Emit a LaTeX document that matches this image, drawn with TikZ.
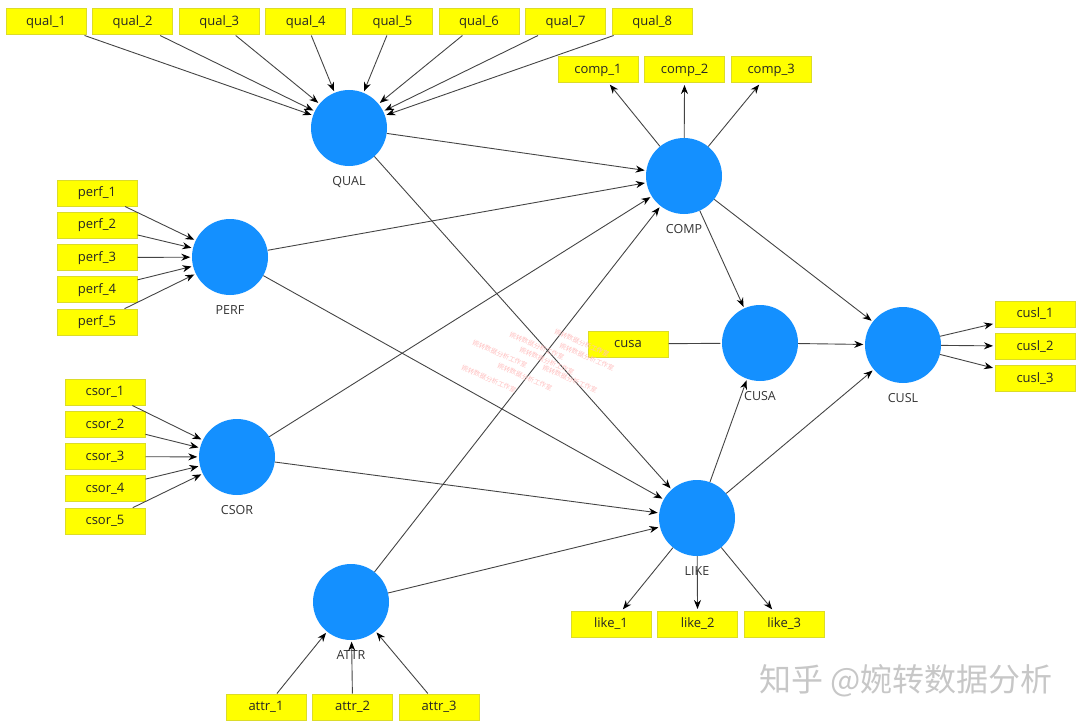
\documentclass[tikz,border=0pt]{standalone}
\usepackage{fontspec}
\setmainfont{Open Sans}
\newfontfamily\cjk{Noto Sans CJK SC}
\usetikzlibrary{positioning,arrows.meta}
\definecolor{latentBlue}{HTML}{1490FF}
\definecolor{itemYellow}{HTML}{FFFF00}
\definecolor{itemBorder}{HTML}{DCDC28}
\definecolor{linkGray}{HTML}{444444}
\tikzstyle{latent} = [fill=latentBlue,shape=circle,minimum size=76pt,inner sep=0pt]
\tikzstyle{latentname} = [font=\fontsize{12.5}{14}\selectfont,text=black!80,inner sep=0pt,label distance=10.5pt]
\tikzstyle{item} = [fill=itemYellow,draw=itemBorder,line width=1pt,minimum width=80pt,minimum height=26pt,inner sep=0pt,font=\fontsize{13}{15}\selectfont,text=black!85]
\tikzstyle{link} = [draw=linkGray,line width=0.9pt,shorten >=1.5pt,-{Stealth[length=9pt,width=7pt,color=black]}]
\tikzstyle{plainlink} = [draw=linkGray,line width=0.9pt,shorten >=1.5pt]
\tikzstyle{wmark} = [font=\cjk\fontsize{6.5}{7}\selectfont,text=red!25,rotate=-23,inner sep=0pt]
\begin{document}
\begin{tikzpicture}[x=1pt,y=-1pt]
	\useasboundingbox (0,0) rectangle (1080,725);
	% latent variables
	\node[latent,label={[latentname]below:QUAL}] (QUAL) at (349,128) {};
	\node[latent,label={[latentname]below:COMP}] (COMP) at (684,176) {};
	\node[latent,label={[latentname]below:PERF}] (PERF) at (230,257) {};
	\node[latent,label={[latentname]below:CUSA}] (CUSA) at (760,343) {};
	\node[latent,label={[latentname]below:CUSL}] (CUSL) at (903,345) {};
	\node[latent,label={[latentname]below:CSOR}] (CSOR) at (237,457) {};
	\node[latent,label={[latentname]below:LIKE}] (LIKE) at (697,518) {};
	\node[latent,label={[latentname]below:ATTR}] (ATTR) at (351,602) {};

	% indicators
	\begin{scope}[node distance=86.6pt]
	\node[item] (qual1) at (46,22) {qual\_1};
	\node[item,right of=qual1] (qual2) {qual\_2};
	\node[item,right of=qual2] (qual3) {qual\_3};
	\node[item,right of=qual3] (qual4) {qual\_4};
	\node[item,right of=qual4] (qual5) {qual\_5};
	\node[item,right of=qual5] (qual6) {qual\_6};
	\node[item,right of=qual6] (qual7) {qual\_7};
	\node[item,right of=qual7] (qual8) {qual\_8};

	\node[item] (comp1) at (598,70) {comp\_1};
	\node[item,right of=comp1] (comp2) {comp\_2};
	\node[item,right of=comp2] (comp3) {comp\_3};

	\node[item] (like1) at (611,624) {like\_1};
	\node[item,right of=like1] (like2) {like\_2};
	\node[item,right of=like2] (like3) {like\_3};

	\node[item] (attr1) at (266,707) {attr\_1};
	\node[item,right of=attr1] (attr2) {attr\_2};
	\node[item,right of=attr2] (attr3) {attr\_3};
	\end{scope}

	\begin{scope}[node distance=32.3pt]
	\node[item] (perf1) at (97,193) {perf\_1};
	\node[item,below of=perf1] (perf2) {perf\_2};
	\node[item,below of=perf2] (perf3) {perf\_3};
	\node[item,below of=perf3] (perf4) {perf\_4};
	\node[item,below of=perf4] (perf5) {perf\_5};

	\node[item] (csor1) at (105,392) {csor\_1};
	\node[item,below of=csor1] (csor2) {csor\_2};
	\node[item,below of=csor2] (csor3) {csor\_3};
	\node[item,below of=csor3] (csor4) {csor\_4};
	\node[item,below of=csor4] (csor5) {csor\_5};

	\node[item] (cusl1) at (1035,314) {cusl\_1};
	\node[item,below of=cusl1] (cusl2) {cusl\_2};
	\node[item,below of=cusl2] (cusl3) {cusl\_3};
	\end{scope}

	\node[item] (cusa1) at (628,344) {cusa};

	% measurement paths
	\foreach \i in {1,...,8} \draw[link] (qual\i) -- (QUAL);
	\foreach \i in {1,...,5} \draw[link] (perf\i) -- (PERF);
	\foreach \i in {1,...,5} \draw[link] (csor\i) -- (CSOR);
	\foreach \i in {1,2,3} \draw[link] (attr\i) -- (ATTR);
	\foreach \i in {1,2,3} \draw[link] (COMP) -- (comp\i);
	\foreach \i in {1,2,3} \draw[link] (LIKE) -- (like\i);
	\foreach \i in {1,2,3} \draw[link] (CUSL) -- (cusl\i);
	\draw[plainlink] (cusa1) -- (CUSA);

	% structural paths
	\draw[link] (QUAL) -- (COMP);
	\draw[link] (QUAL) -- (LIKE);
	\draw[link] (PERF) -- (COMP);
	\draw[link] (PERF) -- (LIKE);
	\draw[link] (CSOR) -- (COMP);
	\draw[link] (CSOR) -- (LIKE);
	\draw[link] (ATTR) -- (COMP);
	\draw[link] (ATTR) -- (LIKE);
	\draw[link] (COMP) -- (CUSA);
	\draw[link] (COMP) -- (CUSL);
	\draw[link] (LIKE) -- (CUSA);
	\draw[link] (LIKE) -- (CUSL);
	\draw[link] (CUSA) -- (CUSL);

	% watermarks
	\node[wmark] (wm1) at (582,343) {婉转数据分析工作室};
	\node[wmark] (wm2) at (587,357) {婉转数据分析工作室};
	\node[wmark] (wm3) at (537,346) {婉转数据分析工作室};
	\node[wmark] (wm4) at (547,361) {婉转数据分析工作室};
	\node[wmark] (wm5) at (500,354) {婉转数据分析工作室};
	\node[wmark] (wm6) at (525,377) {婉转数据分析工作室};
	\node[wmark] (wm7) at (570,379) {婉转数据分析工作室};
	\node[wmark] (wm8) at (489,379) {婉转数据分析工作室};
	\node[font=\cjk\fontsize{32}{35}\selectfont,text=black!22,inner sep=0pt] (zhihu) at (906,681) {知乎 @婉转数据分析};
\end{tikzpicture}
\end{document}
